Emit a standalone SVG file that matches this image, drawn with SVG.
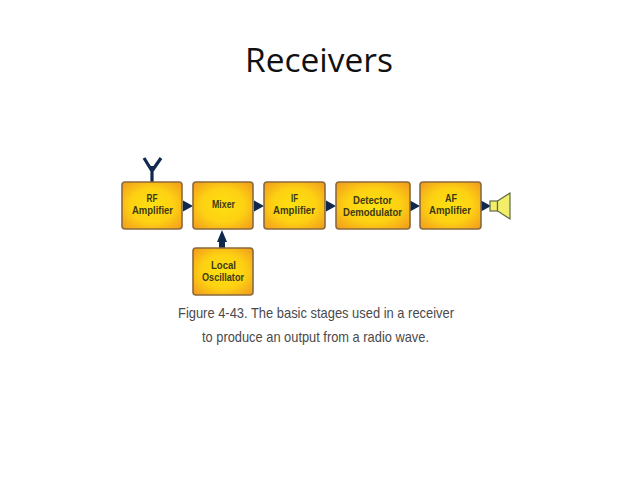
<svg xmlns="http://www.w3.org/2000/svg" width="638" height="478" viewBox="0 0 638 478">
<style>
.box{fill:url(#g);stroke:#8a6a3c;stroke-width:1.6}
.lb{font-family:"Liberation Sans",Arial,sans-serif;font-size:10.5px;font-weight:700;fill:#3d3a14;text-anchor:middle}
.cap{font-family:"Liberation Sans",Arial,sans-serif;font-size:14.5px;fill:#4a4a4c;text-anchor:middle}
.ar{fill:#12294f}
</style>
<defs>
<radialGradient id="g" cx=".5" cy=".5" r=".66">
<stop offset="0" stop-color="#fde012"/><stop offset=".55" stop-color="#fdd112"/><stop offset="1" stop-color="#f39f1d"/>
</radialGradient>
</defs>
<rect width="638" height="478" fill="#fff"/>
<text x="319" y="72" font-family="Open Sans,'Noto Sans',sans-serif" font-size="32" fill="#111" text-anchor="middle" textLength="148" lengthAdjust="spacingAndGlyphs">Receivers</text>
<g id="connectors">
<path class="ar" d="M183 200.500L193 206L183 211.500Z"/>
<path class="ar" d="M254 200.500L264 206L254 211.500Z"/>
<path class="ar" d="M326 200.500L336 206L326 211.500Z"/>
<path class="ar" d="M410 200.500L420 206L410 211.500Z"/>
<path class="ar" d="M481 200.500L491 206L481 211.500Z"/>
<path class="ar" d="M219 248V242H217L222 230L227 242H225V248Z"/>
</g>
<g id="antenna"><path d="M152 182V166M152 171L144 158M152 171L161 158" fill="none" stroke="#12294f" stroke-width="3.200"/></g>
<g id="rf"><rect class="box" x="122" y="182" width="60" height="47" rx="3"/><text class="lb" x="152" y="202" textLength="11" lengthAdjust="spacingAndGlyphs">RF</text><text class="lb" x="152.500" y="214" textLength="41" lengthAdjust="spacingAndGlyphs">Amplifier</text></g>
<g id="mixer"><rect class="box" x="193" y="182" width="60" height="47" rx="3"/><text class="lb" x="223.500" y="208" textLength="23" lengthAdjust="spacingAndGlyphs">Mixer</text></g>
<g id="if"><rect class="box" x="264" y="182" width="61" height="47" rx="3"/><text class="lb" x="294.500" y="202" textLength="7" lengthAdjust="spacingAndGlyphs">IF</text><text class="lb" x="294" y="214" textLength="42" lengthAdjust="spacingAndGlyphs">Amplifier</text></g>
<g id="detector"><rect class="box" x="336" y="182" width="74" height="47" rx="3"/><text class="lb" x="372.500" y="203.500" textLength="39" lengthAdjust="spacingAndGlyphs">Detector</text><text class="lb" x="372.500" y="215.500" textLength="59" lengthAdjust="spacingAndGlyphs">Demodulator</text></g>
<g id="af"><rect class="box" x="420" y="182" width="61" height="47" rx="3"/><text class="lb" x="451" y="202" textLength="12" lengthAdjust="spacingAndGlyphs">AF</text><text class="lb" x="450" y="214" textLength="42" lengthAdjust="spacingAndGlyphs">Amplifier</text></g>
<g id="oscillator"><rect class="box" x="193" y="248" width="60" height="47" rx="3"/><text class="lb" x="223.500" y="268.500" textLength="25" lengthAdjust="spacingAndGlyphs">Local</text><text class="lb" x="223" y="280.500" textLength="42" lengthAdjust="spacingAndGlyphs">Oscillator</text></g>
<g id="speaker"><rect x="490" y="201" width="7.500" height="10" fill="#f3ee6a" stroke="#5d6b45" stroke-width="1.2"/><path d="M497.500 201L510 193V219L497.500 211Z" fill="#f3ee6a" stroke="#5d6b45" stroke-width="1.2"/></g>
<text class="cap" x="316" y="318" textLength="276" lengthAdjust="spacingAndGlyphs">Figure 4-43. The basic stages used in a receiver</text>
<text class="cap" x="315.500" y="342" textLength="227" lengthAdjust="spacingAndGlyphs">to produce an output from a radio wave.</text>
</svg>
